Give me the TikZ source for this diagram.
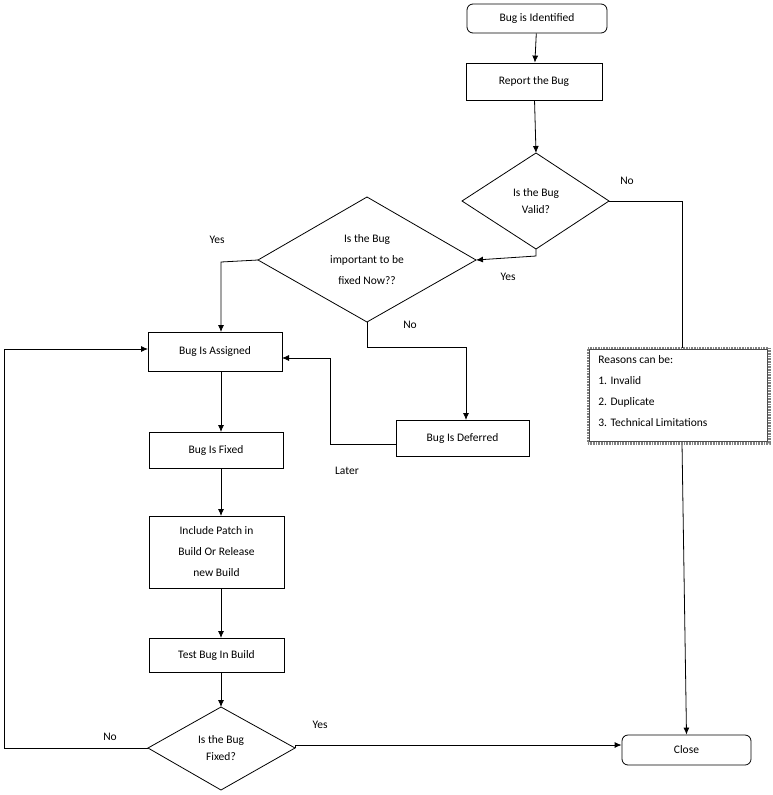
\documentclass[tikz,border=0pt]{standalone}
\usepackage{fontspec}
\setmainfont{Carlito}
\usetikzlibrary{arrows.meta}
\begin{document}
\begin{tikzpicture}[x=1pt,y=-1pt,
  font=\fontsize{11.5}{17}\selectfont,
  line width=0.8pt,
  box/.style={draw,minimum width=#1,inner sep=2pt,align=center},
  arr/.style={-{Latex[length=7pt,width=6pt]}}]
\useasboundingbox (0,0) rectangle (773,795);
\node[box=140,minimum height=29,rounded corners=6pt] (ident) at (537,18.5) {Bug is Identified};
\node[box=136,minimum height=37] (report) at (534,81.5) {Report the Bug};
\draw (462,201) coordinate (vl)--(536,153) coordinate (vt)--(609,201) coordinate (vr)--(536,249) coordinate (vb)--cycle;
\node[align=center] (valid) at (536,201) {Is the Bug\\Valid?};
\draw (258,260) coordinate (il)--(367,197)--(476,260) coordinate (ir)--(367,322) coordinate (ib)--cycle;
\node[align=center,font=\fontsize{11.5}{21}\selectfont] (imp) at (367,260) {Is the Bug\\important to be\\fixed Now??};
\node[box=134,minimum height=39] (assigned) at (215,351.5) {Bug Is Assigned};
\node[box=133,minimum height=36] (deferred) at (462.5,438) {Bug Is Deferred};
\node[box=134,minimum height=36] (fixed) at (216,450) {Bug Is Fixed};
\node[box=135,minimum height=72,font=\fontsize{11.5}{21}\selectfont] (patch) at (216.5,552) {Include Patch in\\Build Or Release\\new Build};
\node[box=135,minimum height=34] (test) at (216.5,655) {Test Bug In Build};
\draw (148,748) coordinate (fl)--(221,707) coordinate (ft)--(295,748) coordinate (fr)--(221,790)--cycle;
\node[align=center] (isfixed) at (221,748) {Is the Bug\\Fixed?};
\node[box=129,minimum height=30,rounded corners=6pt] (close) at (686.5,750) {Close};
% connectors
\draw[arr] (ident)--(report);
\draw[arr] (report)--(vt);
\draw[arr] (vb)--(536,256)--(ir);
\draw (vr)--(682,201)--(682,348);
\draw[arr] (682,443)--(close.north);
\draw[arr] (il)--(221,262)--(221,332);
\draw[arr] (ib)--(367,347)--(466,347)--(466,420);
\draw[arr] (396,444)--(330,444)--(330,358)--(282,358);
\draw[arr] (221,371)--(221,432);
\draw[arr] (221,468)--(221,516);
\draw[arr] (221,588)--(221,638);
\draw[arr] (221,672)--(ft);
\draw[arr] (fl)--(4,748)--(4,349)--(148,349);
\draw[arr] (fr)--(295,745)--(close.west |- 0,745);
% reasons box
\node[draw=gray,line width=3pt,dash pattern=on 0.8pt off 0.8pt,minimum width=181,minimum height=95,fill=white] (reasons) at (678.5,395.5) {};
\draw[black!70,line width=0.6pt] (589.5,349.5) rectangle (767.5,441.5);
\node[anchor=north west,align=left,inner sep=0pt,font=\fontsize{11.5}{21}\selectfont] at (598,355) {Reasons can be:\\1. Invalid\\2. Duplicate\\3. Technical Limitations};
% labels
\node at (627,181) {No};
\node at (508,277) {Yes};
\node at (217,240) {Yes};
\node at (410,325) {No};
\node at (347,471) {Later};
\node at (110,737) {No};
\node at (320,725) {Yes};
\end{tikzpicture}
\end{document}
